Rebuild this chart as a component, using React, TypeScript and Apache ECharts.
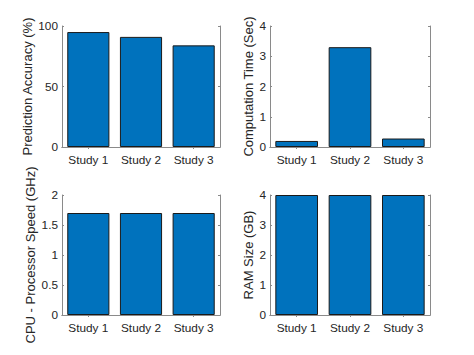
import React, { useEffect, useRef } from "react";
import * as echarts from "echarts";

const categories = ["Study 1", "Study 2", "Study 3"];
const accuracyValues = [95, 91, 84];
const timeValues = [0.2, 3.3, 0.28];
const cpuValues = [1.7, 1.7, 1.7];
const ramValues = [4, 4, 4];
const yLabels = [
  "Prediction Accuracy (%)",
  "Computation Time (Sec)",
  "CPU - Processor Speed (GHz)",
  "RAM Size (GB)",
];
const yMax = [100, 4, 2, 4];
const yInterval = [50, 1, 0.5, 1];

export default function App() {
  const ref = useRef<HTMLDivElement>(null);
  useEffect(() => {
    if (!ref.current) return;
    const chart = echarts.init(ref.current, undefined, { renderer: "svg" });
    const grids = [
      { left: 62, top: 26, width: 158, height: 121 },
      { left: 270, top: 26, width: 160, height: 121 },
      { left: 62, top: 195, width: 158, height: 120 },
      { left: 270, top: 195, width: 160, height: 120 },
    ];
    const nameGaps = [27, 15, 25, 15];
    const data = [accuracyValues, timeValues, cpuValues, ramValues];
    const boxColor = "#8a8a8a";
    const textColor = "#262626";
    const font = "Liberation Sans, Arial, sans-serif";
    const xAxis: any[] = [];
    const yAxis: any[] = [];
    const series: any[] = [];
    grids.forEach((_, i) => {
      xAxis.push({
        type: "category",
        gridIndex: i,
        data: categories,
        position: "bottom",
        axisLine: { show: true, lineStyle: { color: boxColor, width: 1 } },
        axisTick: { show: true, inside: true, length: 2, alignWithLabel: true, lineStyle: { color: boxColor } },
        axisLabel: { color: textColor, fontSize: 11.8, fontFamily: font, margin: 7 },
      });
      xAxis.push({
        type: "category",
        gridIndex: i,
        data: categories,
        position: "top",
        axisLine: { show: true, lineStyle: { color: boxColor, width: 1 } },
        axisTick: { show: true, inside: true, length: 2, alignWithLabel: true, lineStyle: { color: boxColor } },
        axisLabel: { show: false },
      });
      yAxis.push({
        type: "value",
        gridIndex: i,
        min: 0,
        max: yMax[i],
        interval: yInterval[i],
        position: "left",
        name: yLabels[i],
        nameLocation: "middle",
        nameGap: nameGaps[i],
        nameTextStyle: { color: textColor, fontSize: 13, fontFamily: font },
        axisLine: { show: true, lineStyle: { color: boxColor, width: 1 } },
        axisTick: { show: true, inside: true, length: 2, lineStyle: { color: boxColor } },
        axisLabel: { color: textColor, fontSize: 11.8, fontFamily: font, margin: 4 },
        splitLine: { show: false },
      });
      yAxis.push({
        type: "value",
        gridIndex: i,
        min: 0,
        max: yMax[i],
        interval: yInterval[i],
        position: "right",
        axisLine: { show: true, lineStyle: { color: boxColor, width: 1 } },
        axisTick: { show: true, inside: true, length: 2, lineStyle: { color: boxColor } },
        axisLabel: { show: false },
        splitLine: { show: false },
      });
      series.push({
        type: "bar",
        xAxisIndex: 2 * i,
        yAxisIndex: 2 * i,
        data: data[i],
        barCategoryGap: "20%",
        itemStyle: { color: "#0072BD", borderColor: "#1a1a1a", borderWidth: 1 },
      });
    });
    chart.setOption({
      animation: false,
      backgroundColor: "#ffffff",
      grid: grids.map((g) => ({ ...g, containLabel: false })),
      xAxis,
      yAxis,
      series,
    });
    return () => chart.dispose();
  }, []);
  return (
    <div
      ref={ref}
      style={{ position: "fixed", left: 0, top: 0, width: 474, height: 355, background: "#fff" }}
    />
  );
}
